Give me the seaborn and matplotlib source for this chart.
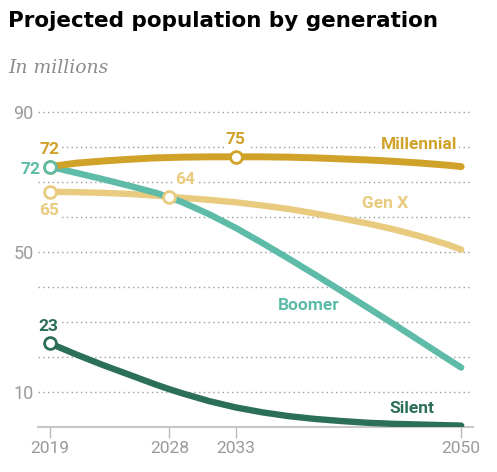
import numpy as np
import pandas as pd
import seaborn as sns
import matplotlib.pyplot as plt

# values (millions)
years = [2019, 2021, 2023, 2025, 2027, 2028, 2029, 2031, 2033, 2035, 2037,
         2039, 2041, 2043, 2045, 2047, 2049, 2050]
millennial = [74.4, 75.4, 76.0, 76.5, 76.9, 77.0, 77.1, 77.2, 77.2, 77.2, 77.1,
              76.9, 76.6, 76.3, 75.9, 75.4, 74.8, 74.4]
gen_x = [67.2, 67.1, 66.9, 66.6, 66.1, 65.8, 65.5, 64.9, 64.2, 63.3, 62.3,
         61.0, 59.6, 58.1, 56.4, 54.4, 52.1, 50.7]
boomer = [74.4, 72.6, 70.8, 68.9, 66.9, 65.6, 64.2, 60.8, 56.9, 52.6, 48.1,
          43.5, 38.8, 34.0, 29.2, 24.3, 19.4, 17.0]
silent = [23.9, 20.7, 17.7, 14.9, 12.1, 10.8, 9.6, 7.4, 5.6, 4.2, 3.1,
          2.3, 1.7, 1.2, 0.9, 0.7, 0.5, 0.4]

generations = ["Millennial", "Gen X", "Boomer", "Silent"]
colors = {"Millennial": "#D1A22A", "Gen X": "#E8CB7E",
          "Boomer": "#5DBBA8", "Silent": "#2B6F5B"}
widths = {"Millennial": 5.0, "Gen X": 4.6, "Boomer": 4.6, "Silent": 4.6}

# highlighted points: (generation, year, label text)
highlights = [("Millennial", 2019, "72"), ("Millennial", 2033, "75"),
              ("Gen X", 2019, "65"), ("Gen X", 2028, "64"),
              ("Boomer", 2019, "72"), ("Silent", 2019, "23")]

xticks = [2019, 2028, 2033, 2050]
ylabeled = [10, 50, 90]

df = pd.DataFrame({
    "year": years * 4,
    "pop": millennial + gen_x + boomer + silent,
    "gen": [g for g in generations for _ in years],
})

sns.set_style("white")
fig = plt.figure(figsize=(4.97, 4.72), dpi=100)
ax = fig.add_axes([0.0765, 0.0953, 0.8755, 0.6822])

for g in ["Gen X", "Boomer", "Silent", "Millennial"]:
    sub = df[df.gen == g]
    sns.lineplot(data=sub, x="year", y="pop", color=colors[g], lw=widths[g], ax=ax,
                 solid_capstyle="round", solid_joinstyle="round", zorder=3)

for g, y, _ in highlights:
    v = df[(df.gen == g) & (df.year == y)]["pop"].iloc[0]
    ax.plot(y, v, "o", ms=8.5, mfc="white", mec=colors[g], mew=2, zorder=5)

ax.set_xlim(2018.1, 2050.9)
ax.set_ylim(0, 92)
yt = list(range(10, 91, 10))
ax.set_yticks(yt)
ax.set_yticklabels([str(v) if v in ylabeled else "" for v in yt])
ax.yaxis.grid(True, linestyle=(0, (1, 2.4)), color="#9A9A9A", lw=1)
ax.xaxis.grid(False)
ax.set_xticks(xticks)
ax.set_xticklabels([str(x) for x in xticks])
ax.tick_params(axis="y", length=0, pad=3, labelsize=13, labelcolor="#9A9A9A")
ax.tick_params(axis="x", length=8, width=1, color="#BBBBBB", direction="out",
               pad=2, labelsize=12.5, labelcolor="#9A9A9A")
for lab in ax.get_xticklabels() + ax.get_yticklabels():
    lab.set_family("Roboto")
ax.xaxis.set_ticks_position("bottom")
for s in ["top", "left", "right"]:
    ax.spines[s].set_visible(False)
ax.spines["bottom"].set_color("#C8C8C8")
ax.spines["bottom"].set_linewidth(1.5)
ax.set_xlabel("")
ax.set_ylabel("")

bb = dict(facecolor="white", edgecolor="none", pad=1.5)
lab_kw = dict(fontsize=12.5, fontweight="bold", family="Roboto", zorder=6, bbox=bb)
pos = {("Millennial", 2019): (0, 7, "center", "bottom"),
       ("Millennial", 2033): (0, 7, "center", "bottom"),
       ("Gen X", 2019): (-1, -8, "center", "top"),
       ("Gen X", 2028): (4, 7, "left", "bottom"),
       ("Boomer", 2019): (-7, -2, "right", "center"),
       ("Silent", 2019): (-1, 7, "center", "bottom")}
for g, y, txt in highlights:
    v = df[(df.gen == g) & (df.year == y)]["pop"].iloc[0]
    dx, dy, ha, va = pos[(g, y)]
    ax.annotate(txt, (y, v), xytext=(dx, dy), textcoords="offset points",
                ha=ha, va=va, color=colors[g], **lab_kw)

ax.text(2049.7, 80.6, "Millennial", ha="right", va="center", color=colors["Millennial"], **lab_kw)
ax.text(2044.3, 64.0, "Gen X", ha="center", va="center", color=colors["Gen X"], **lab_kw)
ax.text(2038.5, 34.6, "Boomer", ha="center", va="center", color=colors["Boomer"], **lab_kw)
ax.text(2046.3, 5.4, "Silent", ha="center", va="center", color=colors["Silent"], **lab_kw)

fig.text(0.016, 0.955, "Projected population by generation", ha="left", va="center",
         fontsize=15.5, fontweight="bold", family="DejaVu Sans", color="black")
fig.text(0.016, 0.856, "In millions", ha="left", va="center", fontsize=13.5,
         style="italic", family="DejaVu Serif", color="#8C8C8C")

fig.savefig("out.png", dpi=100)
